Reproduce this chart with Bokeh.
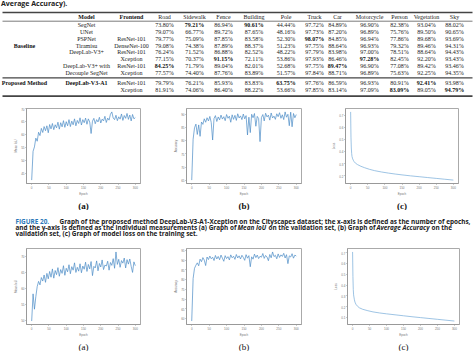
from bokeh.plotting import figure
from bokeh.layouts import column, row
from bokeh.models import Range1d, FixedTicker, ColumnDataSource, Title
from bokeh.embed import file_html
from bokeh.resources import INLINE
from bokeh.core.properties import value

# ---------------- table data ----------------
group_labels = ["Baseline", "Proposed Method"]
header_cols = ["Model", "Frontend", "Road", "Sidewalk", "Fence", "Building", "Pole",
               "Truck", "Car", "Motorcycle", "Person", "Vegetation", "Sky"]
models = ["SegNet", "UNet", "PSPNet", "Tiramisu", "DeepLab-V3+", "", "DeepLab-V3+ with",
          "Decouple SegNet", "DeepLab-V3-A1", ""]
frontends = ["", "", "ResNet-101", "DenseNet-100", "ResNet-101", "Xception", "ResNet-101",
             "Xception", "ResNet-101", "Xception"]
road = ["73.80%", "79.07%", "79.77%", "79.08%", "76.24%", "77.15%", "84.25%", "77.57%", "79.79%", "81.91%"]
sidewalk = ["79.21%", "66.77%", "75.09%", "74.38%", "71.52%", "70.37%", "71.79%", "74.40%", "76.21%", "74.06%"]
fence = ["86.94%", "89.72%", "87.85%", "87.89%", "86.88%", "91.15%", "89.04%", "87.76%", "85.93%", "86.40%"]
building = ["90.61%", "87.65%", "83.58%", "88.37%", "82.52%", "72.11%", "82.01%", "83.89%", "83.83%", "88.22%"]
pole = ["44.44%", "48.16%", "52.30%", "51.23%", "48.22%", "53.86%", "52.68%", "51.57%", "63.75%", "53.66%"]
truck = ["97.72%", "97.73%", "98.07%", "97.75%", "97.79%", "97.93%", "97.75%", "97.84%", "97.76%", "97.85%"]
car = ["84.89%", "87.20%", "84.85%", "88.64%", "83.98%", "86.46%", "89.47%", "88.71%", "86.59%", "83.14%"]
motorcycle = ["96.90%", "96.89%", "96.94%", "96.93%", "97.00%", "97.28%", "96.90%", "96.89%", "96.93%", "97.09%"]
person = ["82.38%", "75.76%", "77.86%", "79.32%", "78.51%", "82.45%", "77.08%", "75.63%", "80.91%", "83.09%"]
vegetation = ["93.04%", "89.50%", "89.68%", "89.46%", "88.64%", "92.20%", "89.42%", "92.25%", "92.41%", "89.05%"]
sky = ["88.02%", "90.65%", "93.69%", "94.31%", "94.43%", "93.43%", "93.46%", "94.35%", "93.98%", "94.79%"]
bold_cells = [(0, "Sidewalk"), (0, "Building"), (2, "Truck"), (5, "Fence"), (5, "Motorcycle"),
              (6, "Road"), (6, "Car"), (8, "Pole"), (8, "Vegetation"), (9, "Person"), (9, "Sky")]

# ---------------- chart data ----------------
epoch_ticks = [0, 50, 100, 150, 200, 250, 300]

iou_val_1 = [42.3, 53.5, 55.2, 58.6, 57.4, 60.9, 59.6, 62.4, 60.8, 63.1,
             61.5, 63.4, 60.7, 63.9, 62.2, 64.3, 61.9, 63.8, 62.6, 64.8,
             62.1, 64.6, 63.0, 65.4, 62.8, 65.0, 63.4, 65.8, 63.1, 65.2,
             63.8, 66.1, 63.4, 65.5, 64.3, 66.5, 63.7, 65.8, 64.6, 66.4,
             64.0, 66.1, 64.9, 60.4, 65.2, 66.3, 64.2, 65.8, 64.9, 66.7,
             64.5, 66.0, 65.3, 67.1, 64.7, 66.4, 65.6, 67.9, 68.8, 66.4,
             65.8, 67.5, 65.4, 66.9, 66.0, 68.0, 65.5, 67.4, 66.3, 68.2,
             65.9, 67.6, 65.3, 67.8, 66.1, 66.6]
acc_val_1 = [65.1, 80.5, 84.8, 86.2, 82.3, 85.9, 81.6, 87.0, 86.1, 88.2,
             86.9, 88.6, 87.4, 89.1, 86.8, 80.2, 88.3, 89.4, 87.2, 88.9,
             87.8, 89.6, 88.1, 89.0, 87.5, 89.8, 88.4, 89.2, 86.9, 89.7,
             88.0, 89.5, 87.6, 90.1, 88.5, 89.3, 87.9, 90.0, 88.2, 89.4,
             82.1, 88.8, 83.0, 89.9, 88.6, 90.2, 85.4, 89.1, 88.3, 79.6,
             88.7, 89.8, 87.4, 90.3, 88.9, 89.6, 87.7, 90.4, 88.5, 89.2,
             88.0, 90.1, 89.0, 90.5, 88.4, 89.7, 87.9, 90.8, 88.8, 89.9,
             85.6, 90.7, 85.2, 90.2, 88.6, 89.8]
loss_epochs_1 = [0, 1, 2, 3, 4, 6, 8, 10, 14, 20, 30, 40, 55, 70, 90, 110, 130, 150, 175, 200, 225, 250, 275, 300]
loss_train_1 = [0.728, 0.52, 0.43, 0.385, 0.36, 0.34, 0.328, 0.318, 0.305, 0.293, 0.279, 0.268,
                0.254, 0.243, 0.232, 0.223, 0.215, 0.208, 0.200, 0.193, 0.186, 0.179, 0.172, 0.165]

iou_val_2 = [49.7, 58.2, 53.4, 57.3, 60.5, 62.1, 61.0, 63.3, 62.2, 64.1,
             61.8, 64.6, 62.9, 65.2, 63.4, 66.0, 63.1, 65.5, 64.2, 66.4,
             63.7, 65.8, 64.6, 67.0, 64.0, 66.2, 65.1, 67.3, 64.5, 66.7,
             65.6, 67.9, 64.9, 66.5, 65.3, 67.6, 64.8, 66.9, 65.9, 68.1,
             65.2, 67.4, 66.0, 68.3, 63.9, 66.8, 66.3, 68.5, 65.4, 67.7,
             66.6, 68.8, 65.8, 67.2, 66.9, 68.4, 65.6, 68.0, 67.1, 69.2,
             66.2, 71.3, 67.4, 69.0, 66.5, 68.6, 67.8, 69.4, 66.3, 68.9,
             67.5, 69.1, 66.8, 64.9, 68.2, 67.0]
acc_val_2 = [58.7, 80.5, 85.8, 87.4, 88.6, 87.1, 90.5, 89.2, 91.3, 90.0,
             87.2, 91.6, 90.3, 92.1, 90.7, 91.5, 89.8, 92.4, 90.6, 91.9,
             90.2, 92.6, 91.0, 89.4, 92.3, 90.8, 91.8, 90.1, 92.7, 91.2,
             92.0, 90.4, 92.9, 91.1, 92.2, 90.6, 92.5, 91.4, 89.9, 92.8,
             91.0, 92.3, 86.6, 91.7, 90.5, 93.1, 91.3, 92.6, 90.8, 92.0,
             91.5, 93.4, 90.9, 92.4, 91.6, 89.7, 92.9, 91.2, 94.2, 91.8,
             92.5, 90.7, 93.2, 91.4, 92.7, 91.9, 93.5, 91.1, 92.8, 88.2,
             92.2, 91.6, 93.3, 91.0, 92.6, 92.1]
loss_epochs_2 = [0, 1, 2, 3, 5, 7, 10, 15, 20, 30, 45, 60, 80, 100, 125, 150, 175, 200, 225, 250, 275, 300]
loss_train_2 = [0.709, 0.48, 0.36, 0.31, 0.27, 0.243, 0.222, 0.203, 0.19, 0.176, 0.163, 0.152,
                0.142, 0.134, 0.125, 0.116, 0.107, 0.099, 0.091, 0.083, 0.075, 0.067]

caption_line1 = ["FIGURE 20.", "Graph of the proposed method DeepLab-V3-A1-Xception on the Cityscapes dataset; the x-axis is defined as the number of epochs,"]
caption_line2 = ["and the y-axis is defined as the individual measurements (a) Graph of", "Mean IoU",
                 "on the validation set, (b) Graph of", "Average Accuracy", "on the"]
caption_line3 = ["validation set, (c) Graph of model loss on the training set."]

# ---------------- layout constants ----------------
W = 474
SERIF = value("Liberation Serif")
SANS = value("Open Sans")
col_x = [86, 131, 164, 194, 223, 253.5, 285.5, 314, 337, 369, 399, 426, 454]
row_y = [24.5, 31.35, 38.2, 45.05, 51.9, 58.75, 65.6, 72.45, 82.7, 89.0]


def blank(h, y0):
    p = figure(width=W, height=h, x_range=Range1d(0, W), y_range=Range1d(y0 + h, y0),
               output_backend="svg", toolbar_location=None, min_border=0,
               x_axis_location=None, y_axis_location=None)
    p.outline_line_color = None
    p.grid.visible = False
    p.background_fill_color = "white"
    p.border_fill_color = "white"
    return p


# ---------------- table figure ----------------
T = blank(102, 0)
T.text(x=[0.5], y=[2.6], text=["Average Accuracy)."], text_font=SANS, text_font_size="7px",
       text_font_style="bold", text_baseline="alphabetic", text_align="left", text_color="#222222")

cols = [models, frontends, road, sidewalk, fence, building, pole, truck, car, motorcycle,
        person, vegetation, sky]
norm = dict(x=[], y=[], t=[])
bold = dict(x=[], y=[], t=[])
for j, h in enumerate(header_cols):
    d = bold if h in ("Model", "Frontend") else norm
    d["x"].append(col_x[j]); d["y"].append(16.3); d["t"].append(h)
for i in range(len(models)):
    for j, c in enumerate(cols):
        txt = c[i]
        if not txt:
            continue
        is_bold = (j == 0 and i >= 8) or (j >= 2 and (i, header_cols[j]) in bold_cells)
        d = bold if is_bold else norm
        d["x"].append(col_x[j]); d["y"].append(row_y[i]); d["t"].append(txt)
bold["x"] += [24, 24]; bold["y"] += [row_y[3], row_y[8]]; bold["t"] += group_labels

T.text(x="x", y="y", text="t", source=ColumnDataSource(norm), text_font=SERIF,
       text_font_size="6px", text_align="center", text_baseline="middle", text_color="#222222")
T.text(x="x", y="y", text="t", source=ColumnDataSource(bold), text_font=SERIF,
       text_font_size="6px", text_font_style="bold", text_align="center",
       text_baseline="middle", text_color="#111111")
rules = dict(y=[12.0, 20.7, 77.3, 95.6], w=[1.4, 0.7, 1.2, 1.8])
T.segment(x0=2, y0="y", x1=472, y1="y", line_width="w", line_color="#444444",
          source=ColumnDataSource(rules))


# ---------------- chart figures ----------------
def chart(w, h, left, right, top, bottom, xs, ys, yticks, ylab, label, label_style, color):
    p = figure(width=w, height=h, output_backend="svg", toolbar_location=None,
               min_border_left=left, min_border_right=right, min_border_top=top,
               min_border_bottom=bottom)
    p.line(xs, ys, line_color=color, line_width=0.7)
    p.xaxis.ticker = FixedTicker(ticks=epoch_ticks)
    p.yaxis.ticker = FixedTicker(ticks=yticks)
    p.xaxis.axis_label = "Epoch"
    p.yaxis.axis_label = ylab
    p.axis.major_label_text_font_size = "3px"
    p.axis.axis_label_text_font_size = "3px"
    p.axis.axis_label_text_font_style = "normal"
    p.axis.major_label_text_color = "#777777"
    p.axis.axis_label_text_color = "#777777"
    p.axis.major_tick_out = 1
    p.axis.major_tick_in = 0
    p.axis.minor_tick_out = 0
    p.axis.minor_tick_in = 0
    p.axis.major_label_standoff = 1
    p.axis.axis_label_standoff = 1
    p.axis.axis_line_color = "#999999"
    p.axis.major_tick_line_color = "#999999"
    p.grid.visible = False
    p.outline_line_color = "#aaaaaa"
    p.background_fill_color = "white"
    p.border_fill_color = "white"
    kw = dict(text=label, align="center", text_font="Liberation Serif", text_font_size="9px",
              text_font_style=label_style, text_color="#111111")
    try:
        t = Title(standoff=0, **kw)
    except Exception:
        t = Title(**kw)
    p.add_layout(t, "below")
    return p


blue = "#4a8bc6"
lblue = "#74aad9"
ep1 = [i * 4 for i in range(len(iou_val_1))]
ep2 = [i * 4 for i in range(len(iou_val_2))]

a1 = chart(165, 108, 26, 25, 6, 17, ep1, iou_val_1, [45, 50, 55, 60, 65, 70], "Mean IoU", "(a)", "bold", blue)
b1 = chart(157, 108, 21, 21, 6, 17, ep1, acc_val_1, [65, 70, 75, 80, 85, 90], "Accuracy", "(b)", "bold", blue)
c1 = chart(152, 108, 23, 16, 6, 17, loss_epochs_1, loss_train_1, [0.2, 0.3, 0.4, 0.5, 0.6, 0.7], "Loss", "(c)", "bold", lblue)

a2 = chart(165, 107, 26, 25, 4, 19, ep2, iou_val_2, [50, 55, 60, 65, 70], "Mean IoU", "(a)", "normal", blue)
b2 = chart(157, 107, 21, 21, 4, 19, ep2, acc_val_2, [60, 65, 70, 75, 80, 85, 90, 95], "Accuracy", "(b)", "normal", blue)
c2 = chart(152, 107, 25, 15, 4, 19, loss_epochs_2, loss_train_2, [0.1, 0.2, 0.3, 0.4, 0.5, 0.6, 0.7], "Loss", "(c)", "normal", lblue)

# ---------------- caption ----------------
C = blank(34, 210)
cap_fs = "6.4px"
C.text(x=[15], y=[220.7], text=[caption_line1[0]], text_font=SANS, text_font_size=cap_fs,
       text_font_style="bold", text_baseline="middle", text_color="#2a78b8")
C.text(x=[59, 15, 268, 431, 15], y=[220.7, 227.0, 227.0, 227.0, 233.3],
       text=[caption_line1[1], caption_line2[0], caption_line2[2], caption_line2[4], caption_line3[0]],
       text_font=SANS, text_font_size=cap_fs, text_font_style="bold", text_baseline="middle",
       text_color="#1a1a1a")
C.text(x=[237, 376], y=[227.0, 227.0], text=[caption_line2[1], caption_line2[3]],
       text_font=SANS, text_font_size=cap_fs, text_font_style="bold italic",
       text_baseline="middle", text_color="#1a1a1a")

layout = column(T, row(a1, b1, c1), C, row(a2, b2, c2))
open("out.html", "w").write(file_html(layout, INLINE))
